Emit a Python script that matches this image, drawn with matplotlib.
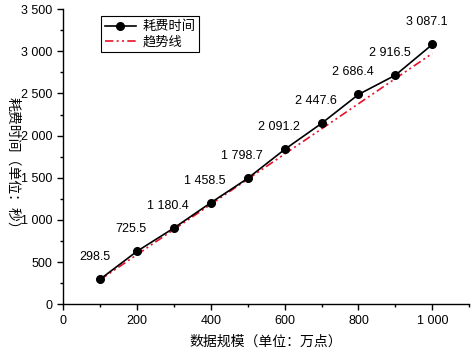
import matplotlib
matplotlib.use("Agg")
import matplotlib.pyplot as plt
from matplotlib.ticker import FuncFormatter, MultipleLocator

# Data
scale = [100, 200, 300, 400, 500, 600, 700, 800, 900, 1000]
time_cost = [296, 628, 904, 1204, 1493, 1836, 2145, 2488, 2717, 3081]
point_labels = ["298.5", "725.5", "1 180.4", "1 458.5", "1 798.7",
                "2 091.2", "2 447.6", "2 686.4", "2 916.5", "3 087.1"]
trend_x = [100, 1000]
trend_y = [290, 2975]

plt.rcParams['font.family'] = ['Liberation Sans', 'Noto Sans CJK SC', 'DejaVu Sans']
cjk = ['Noto Sans CJK SC', 'DejaVu Sans']

fig = plt.figure(figsize=(4.74, 3.51), dpi=100)
ax = fig.add_axes([0.133, 0.133, 0.857, 0.841])

ax.plot(scale, time_cost, color='black', lw=1.2, marker='o', ms=5.5,
        label='耗费时间', zorder=3)
ax.plot(trend_x, trend_y, color='#e8102a', lw=1.2,
        dashes=[5, 2, 1.2, 2, 1.2, 2], label='趋势线', zorder=2)

for x, y, t in zip(scale, time_cost, point_labels):
    ax.annotate(t, (x, y), xytext=(-4, 16), textcoords='offset points',
                ha='center', va='center', fontsize=9)

ax.set_xlim(0, 1100)
ax.set_ylim(0, 3500)
ax.xaxis.set_major_locator(MultipleLocator(200))
ax.xaxis.set_minor_locator(MultipleLocator(100))
ax.yaxis.set_major_locator(MultipleLocator(500))
ax.yaxis.set_minor_locator(MultipleLocator(250))
fmt = FuncFormatter(lambda v, p: f"{v:,.0f}".replace(",", " "))
ax.xaxis.set_major_formatter(fmt)
ax.yaxis.set_major_formatter(fmt)

for s in ['top', 'right']:
    ax.spines[s].set_visible(False)
for s in ['left', 'bottom']:
    ax.spines[s].set_linewidth(1.0)
ax.tick_params(which='major', direction='out', length=4, width=1, labelsize=9)
ax.tick_params(which='minor', direction='out', length=2.5, width=1)

ax.set_xlabel('数据规模（单位：万点）', fontsize=10, family=cjk, labelpad=6)
fig.text(13 / 474, 1 - 166 / 351, '耗费时间（单位：秒）', fontsize=10, family=cjk,
         rotation=-90, ha='center', va='center')

leg = ax.legend(loc='upper left', bbox_to_anchor=(0.094, 0.976), borderaxespad=0,
                fancybox=False, edgecolor='black', framealpha=1,
                prop={'family': cjk, 'size': 9.5}, handlelength=2.3,
                borderpad=0.3, labelspacing=0.15, handletextpad=0.5)
leg.get_frame().set_linewidth(0.8)

fig.savefig('out.png', dpi=100)
